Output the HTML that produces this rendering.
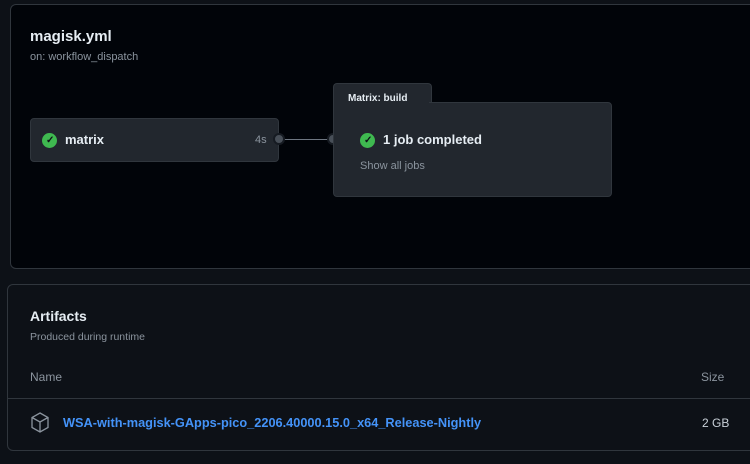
<!DOCTYPE html>
<html><head><style>
body{margin:0;width:750px;height:464px;background:#0d1117;font-family:"Liberation Sans",sans-serif;position:relative;overflow:hidden;color:#e6edf3}
.a{position:absolute}
</style></head><body>
<div class="a" style="left:10px;top:4px;width:760px;height:263px;background:#010409;border:1px solid #30363d;border-radius:6px"></div>
<div class="a" style="left:30px;top:28px;font-size:15px;font-weight:bold;color:#e6edf3">magisk.yml</div>
<div class="a" style="left:30px;top:51px;font-size:11px;color:#8b949e">on: workflow_dispatch</div>

<div class="a" style="left:30px;top:118px;width:247px;height:42px;background:#22272e;border:1px solid #30363d;border-radius:4px"></div>
<div class="a" style="left:42px;top:133px;width:15px;height:15px;border-radius:50%;background:#3fb950"></div>
<div class="a" style="left:46px;top:135px;font-size:10px;color:#0d1117;font-weight:bold">✓</div>
<div class="a" style="left:65px;top:132px;font-size:13px;font-weight:bold">matrix</div>
<div class="a" style="left:255px;top:134px;font-size:11px;color:#8b949e">4s</div>
<div class="a" style="left:282px;top:139px;width:46px;height:1px;background:#6e7681"></div>
<div class="a" style="left:273px;top:133px;width:12px;height:12px;border-radius:50%;background:#484f58;border:2px solid #161b22;box-sizing:border-box"></div>
<div class="a" style="left:327px;top:133px;width:12px;height:12px;border-radius:50%;background:#484f58;border:2px solid #161b22;box-sizing:border-box"></div>

<div class="a" style="left:333px;top:83px;width:97px;height:25px;background:#22272e;border:1px solid #30363d;border-bottom:none;border-radius:4px 4px 0 0"></div>
<div class="a" style="left:333px;top:102px;width:279px;height:95px;background:#22272e;border:1px solid #30363d;border-radius:0 4px 4px 4px;box-sizing:border-box"></div>
<div class="a" style="left:334px;top:100px;width:95px;height:4px;background:#22272e"></div>
<div class="a" style="left:348px;top:93px;font-size:10px;font-weight:bold;color:#e6edf3">Matrix: build</div>
<div class="a" style="left:360px;top:133px;width:15px;height:15px;border-radius:50%;background:#3fb950"></div>
<div class="a" style="left:364px;top:135px;font-size:10px;color:#0d1117;font-weight:bold">✓</div>
<div class="a" style="left:383px;top:132px;font-size:13px;font-weight:bold">1 job completed</div>
<div class="a" style="left:360px;top:160px;font-size:11px;color:#8b949e">Show all jobs</div>

<div class="a" style="left:7px;top:284px;width:760px;height:165px;background:#0d1117;border:1px solid #30363d;border-radius:6px"></div>
<div class="a" style="left:30px;top:308px;font-size:14px;font-weight:bold">Artifacts</div>
<div class="a" style="left:30px;top:331px;font-size:10.5px;color:#8b949e">Produced during runtime</div>
<div class="a" style="left:30px;top:370px;font-size:12px;color:#8b949e">Name</div>
<div class="a" style="left:701px;top:370px;font-size:12px;color:#8b949e">Size</div>
<div class="a" style="left:8px;top:398px;width:760px;height:1px;background:#30363d"></div>
<svg class="a" style="left:30px;top:412px" width="20" height="22" viewBox="0 0 20 22"><path d="M10 1 L18 5.5 V15.5 L10 20 L2 15.5 V5.5 Z M2 5.5 L10 10 L18 5.5 M10 10 V20" fill="none" stroke="#8b949e" stroke-width="1.3"/></svg>
<div class="a" style="left:63px;top:415px;font-size:12.75px;color:#4493f8;font-weight:bold">WSA-with-magisk-GApps-pico_2206.40000.15.0_x64_Release-Nightly</div>
<div class="a" style="left:702px;top:416px;font-size:12px;color:#c9d1d9">2 GB</div>
</body></html>
